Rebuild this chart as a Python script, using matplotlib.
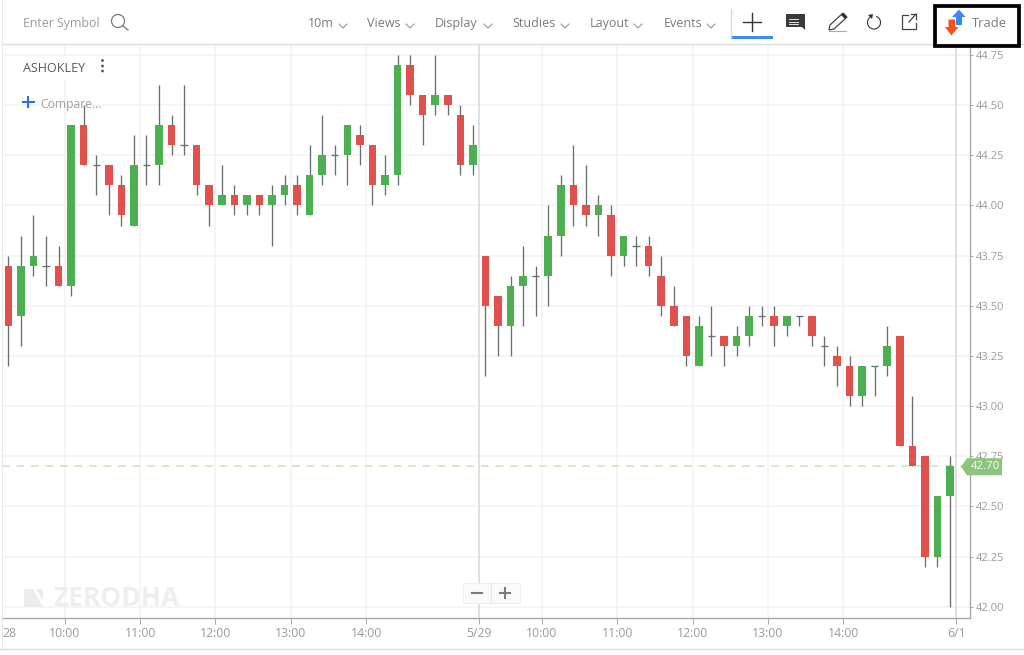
import matplotlib
matplotlib.use("Agg")
import matplotlib.pyplot as plt
from matplotlib.patches import Rectangle, Polygon, Circle, Arc
from matplotlib.lines import Line2D

plt.rcParams['font.family'] = ['Open Sans', 'DejaVu Sans']

symbol = "ASHOKLEY"
last_price = 42.70

opens = [43.70,43.45,43.70,43.70,43.70,43.60,44.40,44.20,44.20,44.10,43.90,44.20,44.20,44.40,44.30,44.30,
         44.10,44.00,44.05,44.00,44.05,44.00,44.05,44.10,43.95,44.15,44.25,44.25,44.35,44.30,44.10,44.15,
         44.70,44.55,44.50,44.55,44.45,44.20,43.75,43.55,43.40,43.60,43.65,43.65,43.85,44.10,44.00,43.95,
         43.95,43.75,43.80,43.80,43.65,43.50,43.45,43.20,43.35,43.35,43.30,43.35,43.45,43.45,43.40,43.45,
         43.45,43.30,43.25,43.20,43.05,43.20,43.20,43.35,42.80,42.75,42.25,42.55]
closes = [43.40,43.70,43.75,43.70,43.60,44.40,44.20,44.20,44.10,43.95,44.20,44.20,44.40,44.30,44.30,44.10,
          44.00,44.05,44.00,44.05,44.00,44.05,44.10,44.00,44.15,44.25,44.25,44.40,44.30,44.10,44.15,44.70,
          44.55,44.45,44.55,44.50,44.20,44.30,43.50,43.40,43.60,43.65,43.65,43.85,44.10,44.00,43.95,44.00,
          43.75,43.85,43.80,43.70,43.50,43.40,43.25,43.40,43.35,43.30,43.35,43.45,43.45,43.40,43.45,43.45,
          43.35,43.30,43.20,43.05,43.20,43.20,43.30,42.80,42.70,42.25,42.55,42.70]
highs = [43.75,43.85,43.95,43.85,43.80,44.40,44.50,44.25,44.20,44.15,44.35,44.35,44.60,44.45,44.60,44.30,
         44.10,44.20,44.10,44.05,44.05,44.10,44.15,44.15,44.30,44.45,44.30,44.40,44.40,44.30,44.25,44.75,
         44.75,44.55,44.75,44.55,44.50,44.40,43.75,43.55,43.65,43.80,43.70,44.00,44.15,44.30,44.20,44.05,
         44.00,43.85,43.85,43.85,43.75,43.60,43.45,43.45,43.50,43.35,43.40,43.50,43.50,43.50,43.45,43.45,
         43.45,43.35,43.30,43.25,43.20,43.20,43.40,43.35,43.05,42.75,42.55,42.75]
lows = [43.20,43.30,43.65,43.60,43.60,43.55,44.20,44.05,43.95,43.90,43.90,44.10,44.10,44.25,44.25,44.05,
        43.90,44.00,43.95,43.95,43.95,43.80,44.00,43.95,43.95,44.10,44.15,44.10,44.20,44.00,44.05,44.10,
        44.50,44.30,44.45,44.45,44.15,44.15,43.15,43.25,43.25,43.40,43.45,43.50,43.75,43.90,43.90,43.85,
        43.65,43.70,43.70,43.65,43.45,43.40,43.20,43.20,43.25,43.20,43.25,43.30,43.40,43.30,43.35,43.40,
        43.30,43.20,43.10,43.00,43.00,43.05,43.15,42.80,42.70,42.20,42.20,42.00]

time_tick_pos = [-0.5, 4.5, 10.5, 16.5, 22.5, 28.5, 37.5, 42.5, 48.5, 54.5, 60.5, 66.5, 75.5]
time_tick_labels = ["28", "10:00", "11:00", "12:00", "13:00", "14:00", "5/29",
                    "10:00", "11:00", "12:00", "13:00", "14:00", "6/1"]
price_ticks = [42.00, 42.25, 42.50, 42.75, 43.00, 43.25, 43.50, 43.75, 44.00, 44.25, 44.50, 44.75]
menu_labels = ["10m", "Views", "Display", "Studies", "Layout", "Events"]
menu_x = [307.5, 367, 435, 512, 590, 664]
chevron_x = [343, 410, 488, 565, 638, 711]

W, H = 1024, 655
GREEN, RED, WICK = "#4caf50", "#e0504d", "#66706f"
GRID, AXIS, TICKTXT = "#f3f3f3", "#a8a8a8", "#9a9a9a"
UI = "#7a7a7a"

fig = plt.figure(figsize=(W/100, H/100), dpi=100, facecolor="white")
L, R, T, B = 2.0, 969.5, 44.5, 618.0
ax = fig.add_axes([L/W, 1-B/H, (R-L)/W, (B-T)/H])
ax.set_xlim((L-8.3)/12.556, (R-8.3)/12.556)
ax.set_ylim(42.0-(B-606.7)/200.6, 44.75+(55.0-T)/200.6)

# grid
ax.set_yticks(price_ticks)
ax.set_yticklabels([f"{p:.2f}" for p in price_ticks])
ax.set_xticks(time_tick_pos)
ax.set_xticklabels(time_tick_labels)
ax.get_xticklabels()[0].set_ha("left")
ax.yaxis.tick_right()
ax.grid(True, color=GRID, linewidth=1.1, zorder=0)
ax.set_axisbelow(True)
ax.tick_params(axis='y', length=2.5, width=0.7, color=AXIS, labelcolor=TICKTXT, labelsize=8.0, pad=2)
ax.tick_params(axis='x', length=4, width=0.7, color=AXIS, labelcolor=TICKTXT, labelsize=8.8, pad=2.5)
for s in ("top", "left"):
    ax.spines[s].set_visible(False)
for s in ("right", "bottom"):
    ax.spines[s].set_color(AXIS)
    ax.spines[s].set_linewidth(1.0)

# day separators
for p, lab in zip(time_tick_pos, time_tick_labels):
    if "/" in lab:
        ax.axvline(p, color="#dcdcdc", linewidth=1.2, zorder=1)

# last price line
ax.axhline(last_price, color="#c5e5b3", linewidth=1.1, dashes=(5, 4.5), zorder=1.5)

# candles
xs = list(range(len(opens)))
for x, o, c, h, l in zip(xs, opens, closes, highs, lows):
    ax.vlines(x, l, h, color=WICK, linewidth=0.95, zorder=2)
    if o == c:
        ax.hlines(o, x-0.29, x+0.29, color=WICK, linewidth=0.95, zorder=2)
    else:
        ax.bar(x, abs(c-o), bottom=min(o, c), width=0.6, color=GREEN if c > o else RED,
               linewidth=0, zorder=3)

# last price tag
ov = fig.add_axes([0, 0, 1, 1], zorder=10)
ov.set_xlim(0, W); ov.set_ylim(H, 0); ov.axis("off"); ov.patch.set_alpha(0)
ytag = 55.0 + (44.75 - last_price)*200.6 + 0.5
ov.add_patch(Polygon([(961, ytag), (967, ytag-8.5), (1002, ytag-8.5), (1002, ytag+8.5), (967, ytag+8.5)],
                     closed=True, fc="#8cc47c", ec="none", zorder=5))
ov.text(985, ytag, f"{last_price:.2f}", color="white", fontsize=8.2, ha="center", va="center", zorder=6)

# header
ov.add_line(Line2D([1.5, 1024], [44, 44], color="#dcdcdc", lw=1))
ov.add_line(Line2D([1.5, 1.5], [0, 649], color="#e8e8e8", lw=0.8))
ov.add_line(Line2D([0, 1024], [649, 649], color="#dcdcdc", lw=1))
ov.text(23, 23, "Enter Symbol", color="#9a9a9a", fontsize=8.9, va="center", ha="left")
ov.add_patch(Circle((118, 21), 6.5, fc="none", ec="#777777", lw=0.9))
ov.add_line(Line2D([123, 128], [26, 30], color="#777777", lw=0.9))
for lab, x in zip(menu_labels, menu_x):
    ov.text(x, 23.5, lab, color=UI, fontsize=9, va="center", ha="left")
for x in chevron_x:
    ov.add_line(Line2D([x-4, x, x+4], [24, 28, 24], color="#8a8a8a", lw=0.7))

ov.add_line(Line2D([731, 731], [9, 39], color="#d5d5d5", lw=0.9))
ov.add_patch(Rectangle((732, 35.5), 41, 3, fc="#3b8bf0", ec="none"))
ov.add_line(Line2D([743, 761], [22, 22], color="#333333", lw=1))
ov.add_line(Line2D([752, 752], [13, 31], color="#333333", lw=1))
ov.add_patch(Polygon([(786, 14), (805, 14), (805, 30), (802, 27), (786, 27)], closed=True, fc="#3a3a3a", ec="none"))
for yy in (18.5, 21.5, 24):
    ov.add_line(Line2D([789, 798], [yy, yy], color="white", lw=0.6))
ov.add_patch(Polygon([(829, 30), (830, 25), (843, 13), (847, 17), (834, 29)], closed=True, fc="white", ec="#444444", lw=0.9))
ov.add_patch(Polygon([(841, 15), (843, 13), (847, 17), (845, 19)], closed=True, fc="#333333", ec="none"))
ov.add_line(Line2D([829, 846], [31, 31], color="#aaaaaa", lw=0.8))
ov.add_patch(Arc((874, 22.5), 13, 13, theta1=-70, theta2=235, ec="#333333", lw=0.8))
ov.add_patch(Polygon([(868, 15), (873, 14), (872, 19)], closed=True, fc="#333333", ec="none"))
ov.add_line(Line2D([908, 902, 902, 916, 916], [15, 15, 29, 29, 23], color="#444444", lw=0.9))
ov.add_line(Line2D([909, 916], [22, 14], color="#444444", lw=0.9))
ov.add_line(Line2D([911, 916, 916], [14, 14, 19], color="#444444", lw=0.9))

# trade button
ov.add_patch(Rectangle((934.5, 5.5), 84, 40.5, fc="none", ec="black", lw=2.7, zorder=8))
ov.add_patch(Polygon([(956, 25), (956, 17), (952, 17), (959, 9.5), (965.5, 17), (962, 17), (962, 25)],
                     closed=True, fc="#3b86f5", ec="none"))
ov.add_patch(Polygon([(948.5, 19.5), (955, 19.5), (955, 27), (958.5, 27), (951.5, 35.5), (945, 27), (948.5, 27)],
                     closed=True, fc="#f4511e", ec="none"))
ov.text(972, 23.5, "Trade", color=UI, fontsize=9.3, va="center", ha="left")

# legend block
ov.add_patch(Rectangle((13, 55.5), 103, 24, fc="white", ec="none"))
ov.text(23, 68, symbol, color="#5a5a5a", fontsize=9.0, va="center", ha="left")
for yy in (60.5, 66, 71):
    ov.add_patch(Circle((102.5, yy), 1.4, fc="#555555", ec="none"))
ov.add_line(Line2D([23, 33.5], [101.5, 101.5], color="#2f6fe0", lw=1.5))
ov.add_line(Line2D([28.2, 28.2], [96.5, 106.5], color="#2f6fe0", lw=1.5))
ov.text(40, 104.5, "Compare...", color="#a0a0a0", fontsize=8.7, va="center", ha="left")

# watermark
ov.add_patch(Polygon([(24, 589), (33, 589), (43, 607), (24, 607)], closed=True, fc="#ececec", ec="none"))
ov.add_patch(Polygon([(36, 589), (43, 589), (43, 601)], closed=True, fc="#ececec", ec="none"))
ov.text(53, 598.5, "ZERODHA", color="#eeeeee", fontsize=19, fontweight="bold", va="center", ha="left")

# zoom control
ov.add_patch(Rectangle((463, 583), 57, 20, fc="#fafafa", ec="#efefef", lw=0.8))
ov.add_line(Line2D([491, 491], [583, 603], color="#e6e6e6", lw=0.8))
ov.add_line(Line2D([472, 482], [593, 593], color="#7a7a7a", lw=1.5))
ov.add_line(Line2D([500, 510], [593, 593], color="#7a7a7a", lw=1.5))
ov.add_line(Line2D([505, 505], [588, 598], color="#7a7a7a", lw=1.5))

fig.savefig("out.png", dpi=100, facecolor="white")
